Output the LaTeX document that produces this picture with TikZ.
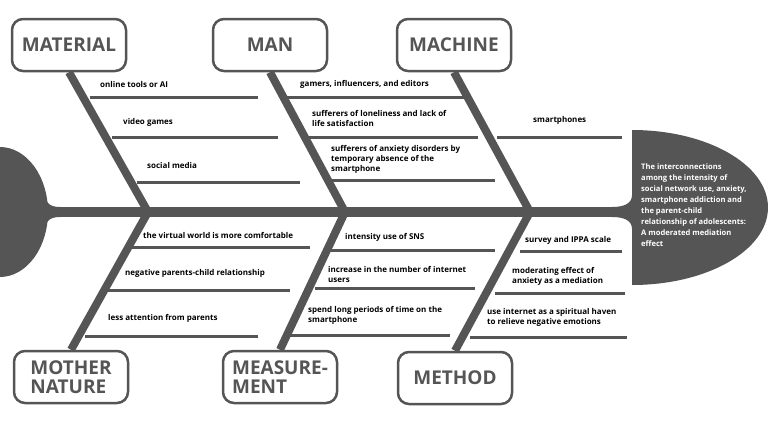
\documentclass[tikz,border=0pt]{standalone}
\usepackage{fontspec}
\setmainfont{Open Sans}
\definecolor{bone}{HTML}{555555}
\tikzset{
  cat/.style={draw=bone,line width=2.5pt,rounded corners=11pt,minimum width=114pt,minimum height=52pt,
    text=bone,font=\bfseries\fontsize{19}{19}\selectfont,align=left,inner sep=2pt},
  rib/.style={bone,line width=8pt},
  twig/.style={bone,line width=3pt},
  lbl/.style={anchor=west,font=\bfseries\fontsize{8}{10}\selectfont,align=left,inner sep=0pt}
}
\begin{document}
\begin{tikzpicture}[x=1pt,y=-1pt]
	\useasboundingbox (0,0) rectangle (768,431);
	% spine, head and tail
	\fill[bone] (632,285) arc[start angle=90,end angle=-90,x radius=136,y radius=77.5] -- cycle;
	\fill[bone] (0,147) arc[start angle=-90,end angle=90,x radius=48,y radius=65] -- cycle;
	\fill[bone] (40,207) rectangle (632,217);
	\fill[bone] (612,207) .. controls (625,207) and (632,203) .. (632,195) -- (632,229) .. controls (632,221) and (625,217) .. (612,217) -- cycle;
	\fill[bone] (60,207) .. controls (50,207) and (46,203) .. (44,195) -- (44,229) .. controls (46,221) and (50,217) .. (60,217) -- cycle;
	\node[text=white,anchor=north west,font=\bfseries\fontsize{7.6}{11}\selectfont,align=left,inner sep=0pt] (effect) at (641,164)
		{The interconnections\\among the intensity of\\social network use, anxiety,\\smartphone addiction and\\the parent-child\\relationship of adolescents:\\A moderated mediation\\effect};
	% categories
	\node[cat] (material) at (69,45) {MATERIAL};
	\node[cat] (man) at (270,45) {MAN};
	\node[cat] (machine) at (454,45) {MACHINE};
	\node[cat] (nature) at (71,377) {MOTHER\\NATURE};
	\node[cat] (measure) at (280,377) {MEASURE-\\MENT};
	\node[cat] (method) at (455,378) {METHOD};
	\coordinate (j1) at (148,212);
	\coordinate (j2) at (345,212);
	\coordinate (j3) at (530,212);
	\draw[rib] (material.south) -- (j1);
	\draw[rib] (man.south) -- (j2);
	\draw[rib] (machine.south) -- (j3);
	\draw[rib] (nature.north) -- (j1);
	\draw[rib] (measure.north) -- (j2);
	\draw[rib] (method.north) -- (j3);
	% twigs
	\draw[twig] (90,97)--(258,97) (112,137)--(278,137) (137,182)--(300,182);
	\draw[twig] (287,97)--(470,97) (305,137)--(478,137) (330,180)--(495,180);
	\draw[twig] (497,137)--(622,137);
	\draw[twig] (130,247)--(310,247) (108,290)--(290,290) (85,336)--(258,336);
	\draw[twig] (330,250)--(495,250) (315,288)--(475,288) (290,335)--(450,335);
	\draw[twig] (520,251)--(622,251) (495,293)--(625,293) (470,337)--(627,337);
	% labels
	\node[lbl] (t1) at (100,84) {online tools or AI};
	\node[lbl] (t2) at (123,122) {video games};
	\node[lbl] (t3) at (147,165) {social media};
	\node[lbl] (t4) at (300,84) {gamers, influencers, and editors};
	\node[lbl] (t5) at (312,118) {sufferers of loneliness and lack of\\life satisfaction};
	\node[lbl] (t6) at (331,159) {sufferers of anxiety disorders by\\temporary absence of the\\smartphone};
	\node[lbl] (t7) at (533,120) {smartphones};
	\node[lbl] (t8) at (143,235) {the virtual world is more comfortable};
	\node[lbl] (t9) at (125,273) {negative parents-child relationship};
	\node[lbl] (t10) at (108,318) {less attention from parents};
	\node[lbl] (t11) at (345,237) {intensity use of SNS};
	\node[lbl] (t12) at (328,274) {increase in the number of internet\\users};
	\node[lbl] (t13) at (308,315) {spend long periods of time on the\\smartphone};
	\node[lbl] (t14) at (525,240) {survey and IPPA scale};
	\node[lbl] (t15) at (512,276) {moderating effect of\\anxiety as a mediation};
	\node[lbl] (t16) at (487,317) {use internet as a spiritual haven\\to relieve negative emotions};
\end{tikzpicture}
\end{document}
